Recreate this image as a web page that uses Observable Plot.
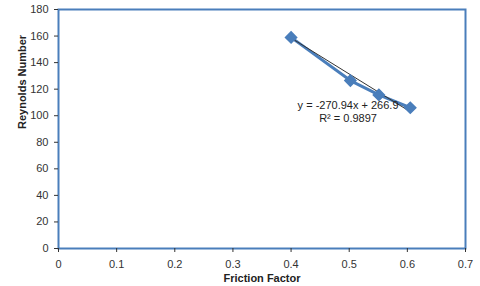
<!DOCTYPE html>
<html>
<head>
<meta charset="utf-8">
<script src="https://cdn.jsdelivr.net/npm/d3@7"></script>
<script src="https://cdn.jsdelivr.net/npm/@observablehq/plot@0.6"></script>
<style>
body { margin: 0; background: #fff; }
svg { font-family: "Liberation Sans", Arial, sans-serif; }
</style>
</head>
<body>
<div id="chart"></div>
<script>
const frictionFactor = [0.4, 0.502, 0.551, 0.605];
const reynolds = [159, 126.5, 115.7, 106];
const trendSlope = -270.94;
const trendIntercept = 266.9;
const eqLines = ["y = -270.94x + 266.9", "R² = 0.9897"];
const xTicks = [0, 0.1, 0.2, 0.3, 0.4, 0.5, 0.6, 0.7];
const yTicks = [0, 20, 40, 60, 80, 100, 120, 140, 160, 180];

const pts = frictionFactor.map((x, i) => ({x, y: reynolds[i]}));
const xMin = d3.min(frictionFactor), xMax = d3.max(frictionFactor);
const trend = [xMin, xMax].map(x => ({x, y: trendSlope * x + trendIntercept}));
const eq = eqLines.map((t, i) => ({t, x: 0.498, y: 108 - i * 10}));

const blue = "#4a7ebb";

const chart = Plot.plot({
  width: 480,
  height: 286,
  marginLeft: 58,
  marginRight: 15,
  marginTop: 9,
  marginBottom: 38,
  style: {fontSize: "11px", color: "#333"},
  x: {domain: [0, 0.7], ticks: xTicks, label: null, tickFormat: d => String(d)},
  y: {domain: [0, 180], ticks: yTicks, label: null},
  marks: [
    Plot.frame({stroke: blue, strokeWidth: 2}),
    Plot.line(pts, {x: "x", y: "y", stroke: blue, strokeWidth: 3}),
    Plot.line(trend, {x: "x", y: "y", stroke: "#333", strokeWidth: 1}),
    Plot.dot(pts, {x: "x", y: "y", symbol: "diamond2", r: 5, fill: blue, stroke: blue}),
    Plot.text(eq, {x: "x", y: "y", text: "t", fontSize: 11, fill: "#222", textAnchor: "middle"}),
    Plot.axisX({ticks: xTicks, tickFormat: d => String(d), tickSize: 4, tickPadding: 8, label: null, fontSize: 11, fill: "#333"}),
    Plot.axisY({ticks: yTicks, tickSize: 4, tickPadding: 6, label: null, fontSize: 11, fill: "#333"}),
    Plot.text(["Friction Factor"], {frameAnchor: "bottom", dy: 33, fontWeight: "bold", fontSize: 11, fill: "#222"}),
    Plot.text(["Reynolds Number"], {frameAnchor: "left", dx: -36, rotate: -90, fontWeight: "bold", fontSize: 11, fill: "#222"})
  ]
});
document.getElementById("chart").appendChild(chart);
</script>
</body>
</html>
